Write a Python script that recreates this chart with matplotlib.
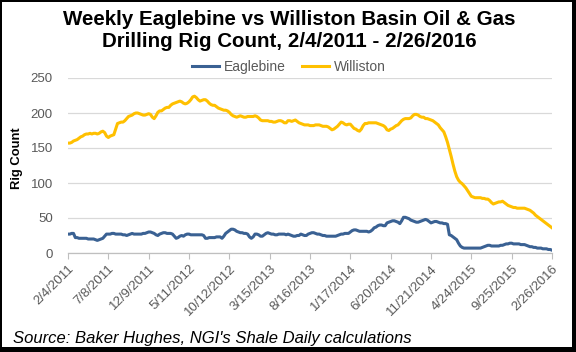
import matplotlib
matplotlib.use("Agg")
import matplotlib.pyplot as plt
from matplotlib.patches import Rectangle
import pandas as pd

plt.rcParams['font.family'] = ['Liberation Sans', 'DejaVu Sans']

# weekly counts, 2/4/2011 .. 2/26/2016 (265 weeks)
start_date = "2011-02-04"
n_weeks = 265
tick_every = 22

williston = [
    157, 157, 158, 160, 161, 162, 164, 166, 167, 169,
    170, 170, 171, 170, 171, 171, 170, 171, 173, 174,
    172, 167, 165, 167, 168, 169, 177, 185, 186, 187,
    187, 189, 192, 195, 196, 197, 199, 200, 200, 199,
    198, 197, 197, 198, 199, 198, 194, 192, 196, 201,
    203, 203, 205, 207, 208, 208, 211, 213, 214, 215,
    216, 217, 216, 214, 213, 214, 216, 219, 223, 224,
    222, 219, 217, 218, 219, 219, 217, 214, 212, 211,
    211, 209, 207, 206, 205, 204, 204, 203, 201, 198,
    196, 195, 194, 195, 196, 195, 194, 194, 195, 195,
    195, 195, 196, 195, 193, 190, 189, 189, 189, 189,
    188, 188, 187, 187, 188, 189, 189, 188, 186, 186,
    189, 189, 188, 189, 190, 188, 186, 185, 184, 183,
    183, 183, 182, 182, 182, 183, 183, 183, 182, 181,
    181, 181, 180, 178, 176, 177, 179, 181, 184, 187,
    186, 184, 183, 184, 184, 181, 178, 177, 175, 174,
    177, 182, 185, 185, 186, 186, 186, 186, 186, 185,
    184, 183, 182, 180, 176, 175, 177, 178, 180, 182,
    183, 186, 189, 191, 192, 192, 192, 193, 196, 198,
    198, 197, 195, 194, 194, 192, 192, 191, 190, 189,
    187, 185, 183, 179, 176, 173, 166, 158, 148, 138,
    127, 117, 109, 104, 101, 99, 96, 93, 89, 85,
    81, 80, 79, 79, 79, 79, 78, 78, 77, 77,
    75, 72, 70, 71, 72, 73, 73, 74, 72, 70,
    68, 67, 66, 65, 65, 64, 64, 64, 64, 64,
    63, 62, 61, 59, 57, 54, 52, 50, 48, 46,
    44, 42, 40, 38, 36,
]

eaglebine = [
    27, 27, 28, 28, 22, 22, 21, 21, 21, 21,
    21, 20, 20, 20, 20, 19, 18, 19, 20, 21,
    24, 27, 27, 27, 28, 28, 27, 27, 27, 27,
    26, 26, 25, 26, 27, 28, 27, 27, 27, 27,
    27, 28, 28, 29, 30, 30, 29, 28, 26, 25,
    27, 28, 29, 29, 28, 28, 28, 27, 24, 21,
    22, 24, 25, 24, 26, 27, 27, 26, 26, 26,
    26, 26, 26, 26, 25, 21, 21, 22, 22, 22,
    22, 23, 23, 23, 21, 24, 28, 30, 32, 34,
    34, 33, 31, 30, 29, 29, 28, 28, 27, 23,
    21, 23, 27, 27, 26, 24, 24, 26, 28, 29,
    28, 27, 27, 26, 26, 27, 27, 27, 27, 26,
    27, 26, 25, 24, 24, 25, 25, 27, 26, 25,
    25, 27, 28, 29, 29, 28, 27, 27, 26, 25,
    25, 24, 24, 24, 24, 24, 24, 25, 26, 27,
    27, 28, 28, 28, 30, 32, 33, 33, 32, 31,
    31, 31, 31, 31, 30, 31, 33, 36, 37, 39,
    40, 40, 39, 39, 43, 44, 45, 46, 46, 45,
    44, 42, 46, 51, 51, 50, 49, 47, 46, 45,
    44, 44, 45, 46, 47, 48, 47, 45, 43, 44,
    45, 45, 44, 43, 43, 42, 42, 41, 26, 25,
    23, 21, 19, 14, 10, 8, 7, 7, 7, 7,
    7, 7, 7, 7, 7, 7, 8, 9, 10, 11,
    11, 10, 10, 10, 10, 10, 11, 11, 12, 13,
    13, 14, 14, 13, 13, 13, 13, 12, 12, 12,
    11, 10, 9, 9, 8, 8, 7, 7, 7, 6,
    6, 6, 5, 5, 4,
]

weeks = pd.date_range(start_date, periods=n_weeks, freq="7D")
tick_dates = weeks[::tick_every]
tick_labels = [f"{d.month}/{d.day}/{d.year}" for d in tick_dates]

W, H = 576, 352
fig = plt.figure(figsize=(W / 100, H / 100), dpi=100, facecolor="black")
# white card inside the black frame
fig.add_artist(Rectangle((2 / W, 5 / H), 570 / W, 345 / H, transform=fig.transFigure,
                         facecolor="white", edgecolor="none", zorder=0))

ax = fig.add_axes([68 / W, 1 - 253 / H, (552 - 68) / W, 175 / H])
ax.set_facecolor("white")

ax.plot(weeks, eaglebine, color="#3A6193", lw=2.2, label="Eaglebine", solid_joinstyle="round")
ax.plot(weeks, williston, color="#FFC000", lw=2.2, label="Williston", solid_joinstyle="round")

ax.set_xlim(weeks[0], weeks[-1])
ax.set_ylim(0, 250)
ax.set_yticks(range(0, 251, 50))
ax.grid(axis="y", color="#D9D9D9", lw=0.9)
ax.set_axisbelow(True)

for side in ["top", "right", "left"]:
    ax.spines[side].set_visible(False)
ax.spines["bottom"].set_color("#BFBFBF")
ax.spines["bottom"].set_linewidth(0.9)

ax.set_xticks(tick_dates)
ax.set_xticklabels(tick_labels, rotation=45, ha="right", rotation_mode="anchor")
ax.tick_params(axis="x", length=4, color="#BFBFBF", pad=3, labelsize=9.5, labelcolor="#595959")
ax.tick_params(axis="y", length=0, pad=11, labelsize=9.5, labelcolor="#595959")

fig.text(289 / W, 1 - 30.5 / H,
         "Weekly Eaglebine vs Williston Basin Oil & Gas\nDrilling Rig Count, 2/4/2011 - 2/26/2016",
         ha="center", va="center", fontsize=14.8, fontweight="bold", linespacing=1.2)

fig.text(17 / W, 1 - 158 / H, "Rig Count", rotation=90, ha="center", va="center",
         fontsize=9.4, fontweight="bold")

fig.legend(loc="center", bbox_to_anchor=(289 / W, 1 - 67 / H), ncol=2, frameon=False,
           fontsize=10, handlelength=1.95, handletextpad=0.36, columnspacing=1.2,
           labelcolor="#595959")

fig.text(13 / W, 1 - 339 / H, "Source: Baker Hughes, NGI's Shale Daily calculations",
         ha="left", va="center", fontsize=12, style="italic")

fig.savefig("out.png", dpi=100, facecolor=fig.get_facecolor())
